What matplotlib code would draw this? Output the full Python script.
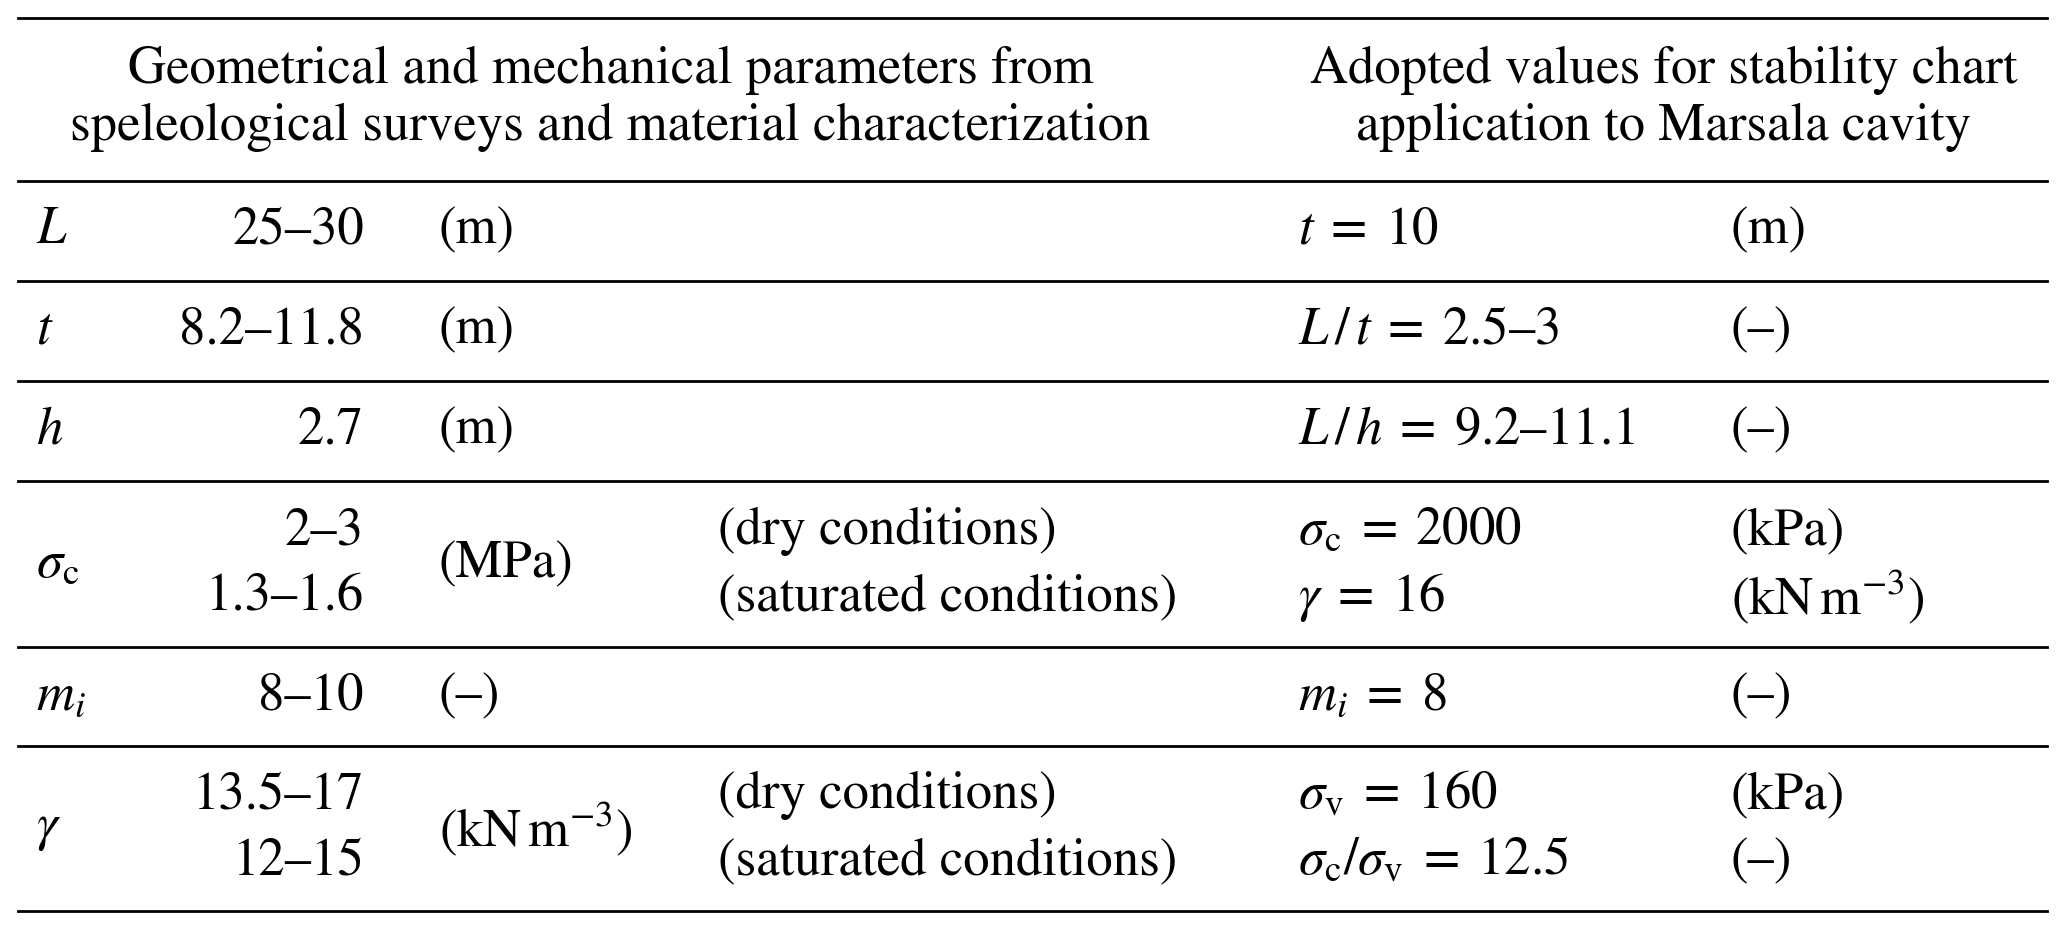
import matplotlib
matplotlib.use("Agg")
import matplotlib.pyplot as plt

plt.rcParams['font.family'] = ['STIXGeneral', 'DejaVu Serif']
plt.rcParams['mathtext.fontset'] = 'stix'

header_left = "Geometrical and mechanical parameters from\nspeleological surveys and material characterization"
header_right = "Adopted values for stability chart\napplication to Marsala cavity"

symbols = [r"$L$", r"$t$", r"$h$", r"$\sigma_{\mathrm{c}}$", r"$m_i$", r"$\gamma$"]
ranges = [["25–30"], ["8.2–11.8"], ["2.7"], ["2–3", "1.3–1.6"], ["8–10"], ["13.5–17", "12–15"]]
units = ["(m)", "(m)", "(m)", "(MPa)", "(–)", r"(kN$\,$m$^{-3}$)"]
conditions = [[], [], [], ["(dry conditions)", "(saturated conditions)"], [],
              ["(dry conditions)", "(saturated conditions)"]]
adopted = [[r"$t\;=\;10$"], [r"$L\,/\,t\;=\;2.5$–$3$"], [r"$L\,/\,h\;=\;9.2$–$11.1$"],
           [r"$\sigma_{\mathrm{c}}\;=\;2000$", r"$\gamma\;=\;16$"], [r"$m_i\;=\;8$"],
           [r"$\sigma_{\mathrm{v}}\;=\;160$", r"$\sigma_{\mathrm{c}}/\sigma_{\mathrm{v}}\;=\;12.5$"]]
adopted_units = [["(m)"], ["(–)"], ["(–)"], ["(kPa)", r"(kN$\,$m$^{-3}$)"], ["(–)"], ["(kPa)", "(–)"]]

W, H = 1568.0, 706.0
fig = plt.figure(figsize=(20.67, 9.31), dpi=100)

def X(x): return x / W
def Y(y): return 1 - y / H

fs = 38
lines_y = [14, 137, 213, 289, 365, 491, 566, 691]
for ly in lines_y:
    fig.add_artist(plt.Line2D([X(14), X(1553)], [Y(ly), Y(ly)], color='black', lw=2.0))

fig.text(X(463), Y(75), header_left, ha='center', va='center', fontsize=fs, linespacing=1.2)
fig.text(X(1262), Y(75), header_right, ha='center', va='center', fontsize=fs, linespacing=1.2)

for i in range(len(symbols)):
    top, bot = lines_y[i + 1], lines_y[i + 2]
    yc = (top + bot) / 2
    n = len(ranges[i])
    ys = [yc] if n == 1 else [yc - 25, yc + 25]
    fig.text(X(27), Y(yc), symbols[i], ha='left', va='center', fontsize=fs)
    for k, r in enumerate(ranges[i]):
        fig.text(X(276), Y(ys[k]), r, ha='right', va='center', fontsize=fs)
    fig.text(X(333), Y(yc), units[i], ha='left', va='center', fontsize=fs)
    for k, c in enumerate(conditions[i]):
        fig.text(X(545), Y(ys[k]), c, ha='left', va='center', fontsize=fs)
    for k, a in enumerate(adopted[i]):
        fig.text(X(985), Y(ys[k]), a, ha='left', va='center', fontsize=fs)
    for k, u in enumerate(adopted_units[i]):
        fig.text(X(1313), Y(ys[k]), u, ha='left', va='center', fontsize=fs)

fig.savefig("out.png", dpi=100, facecolor='white')
